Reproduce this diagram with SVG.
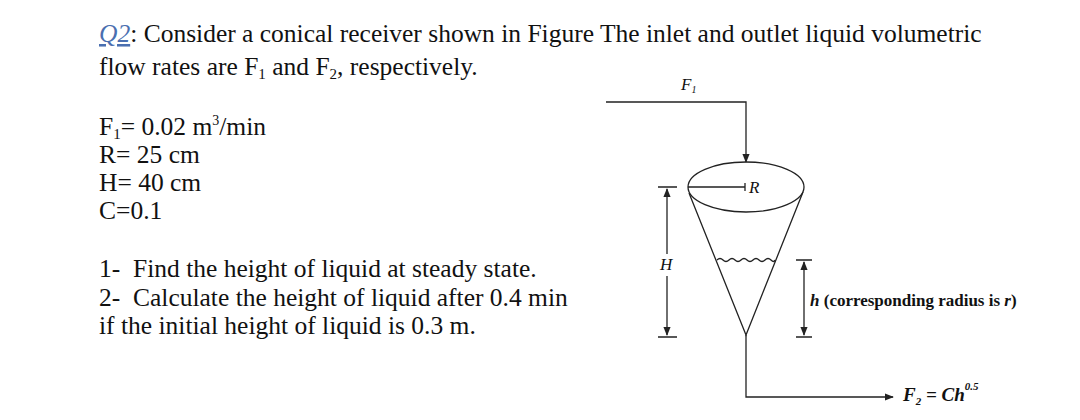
<svg xmlns="http://www.w3.org/2000/svg" width="1080" height="420" viewBox="0 0 1080 420">
<defs>
<style>
.t{font-family:"Liberation Serif",serif;font-size:25.5px;fill:#111}
.d{font-family:"Liberation Serif",serif;fill:#111}
.l{stroke:#222;stroke-width:1.3;fill:none}
</style>
<marker id="a" viewBox="0 0 10 10" refX="9" refY="5" markerWidth="7" markerHeight="7" orient="auto-start-reverse"><path d="M0,1 L10,5 L0,9 z" fill="#222"/></marker>
</defs>
<rect width="1080" height="420" fill="#fff"/>
<g id="text">
<text class="t" x="99" y="42"><tspan fill="#4a6fb0" font-style="italic" text-decoration="underline">Q2</tspan>: Consider a conical receiver shown in Figure The inlet and outlet liquid volumetric</text>
<text class="t" x="99" y="75">flow rates are F<tspan font-size="15" dy="4">1</tspan><tspan dy="-4"> and F</tspan><tspan font-size="15" dy="4">2</tspan><tspan dy="-4">, respectively.</tspan></text>
<text class="t" x="99" y="135">F<tspan font-size="15" dy="4">1</tspan><tspan dy="-4">= 0.02 m</tspan><tspan font-size="14" dy="-10">3</tspan><tspan dy="10">/min</tspan></text>
<text class="t" x="99" y="163">R= 25 cm</text>
<text class="t" x="99" y="191">H= 40 cm</text>
<text class="t" x="99" y="219">C=0.1</text>
<text class="t" x="99" y="277" xml:space="preserve">1-  Find the height of liquid at steady state.</text>
<text class="t" x="99" y="306" xml:space="preserve">2-  Calculate the height of liquid after 0.4 min</text>
<text class="t" x="99" y="334">if the initial height of liquid is 0.3 m.</text>
</g>
<g id="connectors">
<path class="l" d="M606,102 H746 V162" marker-end="url(#a)"/>
<path class="l" d="M746,335 V397 H893" marker-end="url(#a)"/>
</g>
<g id="cone">
<ellipse class="l" cx="746" cy="187" rx="58" ry="25"/>
<path class="l" d="M689,193 L746,335 L803,192"/>
<path class="l" d="M688,187 H745 M745,183 V191"/>
<path class="l" d="M717,260 q3,-3 6,0 t6,0 t6,0 t6,0 t6,0 t6,0 t6,0 t6,0 t6,0 t4,0"/>
</g>
<g id="dims">
<path class="l" d="M658,187 H677 M658,337 H677 M796,260 H812 M796,337 H812"/>
<path class="l" d="M667,189 V254" marker-start="url(#a)"/>
<path class="l" d="M667,276 V335" marker-end="url(#a)"/>
<path class="l" d="M804,262 V335" marker-start="url(#a)" marker-end="url(#a)"/>
</g>
<g id="labels">
<text class="d" x="681" y="90" font-style="italic" font-size="17">F<tspan font-size="10" dy="3">1</tspan></text>
<text class="d" x="749" y="193" font-style="italic" font-size="17">R</text>
<text class="d" x="660" y="270" font-style="italic" font-size="17">H</text>
<text class="d" x="810" y="306" font-size="17" font-weight="bold"><tspan font-style="italic">h</tspan> (corresponding radius is <tspan font-style="italic">r</tspan>)</text>
<text class="d" x="903" y="401" font-style="italic" font-size="19" font-weight="bold">F<tspan font-size="11" dy="4">2</tspan><tspan dy="-4"> = Ch</tspan><tspan font-size="11" dy="-11">0.5</tspan></text>
</g>
</svg>
